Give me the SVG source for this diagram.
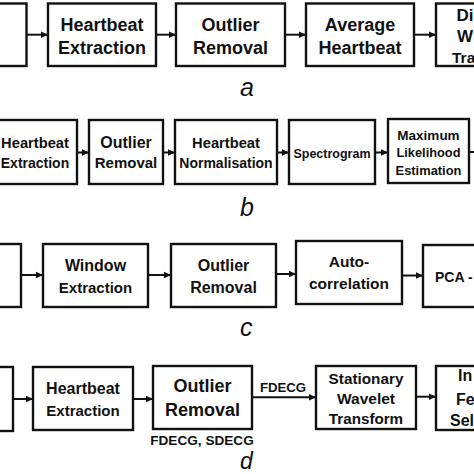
<svg xmlns="http://www.w3.org/2000/svg" width="474" height="474" viewBox="0 0 474 474">
<defs>
<marker id="ah" markerUnits="userSpaceOnUse" markerWidth="8" markerHeight="8" refX="7" refY="4" orient="auto">
<path d="M0,0.8 L7,4 L0,7.2 z" fill="#111"/>
</marker>
<style>
rect{fill:#fff;stroke:#111;stroke-width:2.4}
text{font-family:"Liberation Sans",Arial,sans-serif;font-weight:bold;fill:#111;text-anchor:middle}
.l{font-weight:normal;font-style:italic;font-size:25px;text-anchor:start}
.s{text-anchor:start}
.c line{stroke:#111;stroke-width:2;marker-end:url(#ah)}
</style>
</defs>
<rect x="0" y="0" width="474" height="474" style="fill:#fff;stroke:none"/>

<!-- Row a -->
<g id="a0"><rect x="-20" y="3.5" width="46.5" height="62.5"/></g>
<g id="a1"><rect x="48" y="3.5" width="108" height="62.5"/>
<text x="102" y="30.5" font-size="18">Heartbeat</text><text x="102" y="54" font-size="18">Extraction</text></g>
<g id="a2"><rect x="176" y="3.5" width="109" height="62.5"/>
<text x="230.5" y="30.5" font-size="18">Outlier</text><text x="230.5" y="54" font-size="18">Removal</text></g>
<g id="a3"><rect x="306" y="3.5" width="108" height="62.5"/>
<text x="360" y="30.5" font-size="18">Average</text><text x="360" y="54" font-size="18">Heartbeat</text></g>
<g id="a4"><rect x="436" y="3.5" width="60" height="62.5"/>
<text class="s" x="456.5" y="21" font-size="17">Di</text><text class="s" x="457" y="42" font-size="17">W</text><text class="s" x="452" y="63" font-size="15.5">Tra</text></g>
<text class="l" x="240" y="96">a</text>

<!-- Row b -->
<g id="b1"><rect x="-16" y="120" width="93" height="64"/>
<text x="35" y="148" font-size="14.7">Heartbeat</text><text x="35" y="168" font-size="14">Extraction</text></g>
<g id="b2"><rect x="89" y="120" width="74" height="64"/>
<text x="126" y="148" font-size="16">Outlier</text><text x="126" y="168" font-size="15">Removal</text></g>
<g id="b3"><rect x="175" y="120" width="102" height="64"/>
<text x="226" y="148" font-size="14.7">Heartbeat</text><text x="226" y="168" font-size="14">Normalisation</text></g>
<g id="b4"><rect x="289" y="120" width="86" height="64"/>
<text x="332" y="157.5" font-size="12.5">Spectrogram</text></g>
<g id="b5"><rect x="388" y="119" width="81" height="64"/>
<text x="428.5" y="139.5" font-size="13.5">Maximum</text><text x="428.5" y="157" font-size="12.8">Likelihood</text><text x="428.5" y="174.5" font-size="12.9">Estimation</text></g>
<text class="l" x="240" y="216">b</text>

<!-- Row c -->
<g id="c0"><rect x="-20" y="244" width="41" height="63"/></g>
<g id="c1"><rect x="43" y="244" width="105" height="63"/>
<text x="95.5" y="270.5" font-size="16">Window</text><text x="95.5" y="292.5" font-size="15">Extraction</text></g>
<g id="c2"><rect x="171" y="244" width="105" height="63"/>
<text x="223.5" y="270.5" font-size="16">Outlier</text><text x="223.5" y="292.5" font-size="16">Removal</text></g>
<g id="c3"><rect x="296" y="241" width="106" height="63"/>
<text x="349" y="267" font-size="15.5">Auto-</text><text x="349" y="289" font-size="15.5">correlation</text></g>
<g id="c4"><rect x="423" y="245" width="70" height="62"/>
<text class="s" x="435" y="282" font-size="14">PCA -</text></g>
<text class="l" x="240" y="336">c</text>

<!-- Row d -->
<g id="d0"><rect x="-20" y="367" width="33" height="64"/></g>
<g id="d1"><rect x="33" y="367" width="100" height="63"/>
<text x="83" y="394" font-size="16">Heartbeat</text><text x="83" y="416" font-size="15">Extraction</text></g>
<g id="d2"><rect x="153" y="366" width="99" height="63"/>
<text x="202.5" y="392" font-size="18">Outlier</text><text x="202.5" y="416" font-size="18">Removal</text>
<text x="202" y="445" font-size="13.6">FDECG, SDECG</text></g>
<g id="d3"><rect x="316" y="366" width="100" height="63"/>
<text x="366" y="383.5" font-size="15.3">Stationary</text><text x="366" y="404" font-size="15.5">Wavelet</text><text x="366" y="424" font-size="15.2">Transform</text></g>
<g id="d4"><rect x="436" y="366" width="60" height="64"/>
<text class="s" x="458" y="381" font-size="16">In</text><text class="s" x="456" y="405" font-size="16">Fe</text><text class="s" x="450" y="426" font-size="16">Sel</text></g>
<text class="l" x="240" y="469" style="font-size:23px">d</text>

<g id="connectors" class="c">
<line x1="26.5" y1="34.7" x2="48" y2="34.7"/>
<line x1="156" y1="34.7" x2="176" y2="34.7"/>
<line x1="285" y1="34.7" x2="306" y2="34.7"/>
<line x1="414" y1="34.7" x2="436" y2="34.7"/>
<line x1="77" y1="152.5" x2="89" y2="152.5"/>
<line x1="163" y1="152.5" x2="175" y2="152.5"/>
<line x1="277" y1="152.5" x2="289" y2="152.5"/>
<line x1="375" y1="152.5" x2="388" y2="152.5"/>
<line x1="469" y1="152" x2="480" y2="152" style="marker-end:none"/>
<line x1="21" y1="275" x2="43" y2="275"/>
<line x1="148" y1="275" x2="171" y2="275"/>
<line x1="276" y1="274" x2="296" y2="274"/>
<line x1="402" y1="275.5" x2="423" y2="275.5"/>
<line x1="13" y1="399" x2="33" y2="399"/>
<line x1="133" y1="399" x2="153" y2="399"/>
<line x1="252" y1="397.3" x2="316" y2="397.3"/>
<line x1="416" y1="396.7" x2="436" y2="396.7"/>
<text x="283" y="392" font-size="13.2">FDECG</text>
</g>
</svg>
